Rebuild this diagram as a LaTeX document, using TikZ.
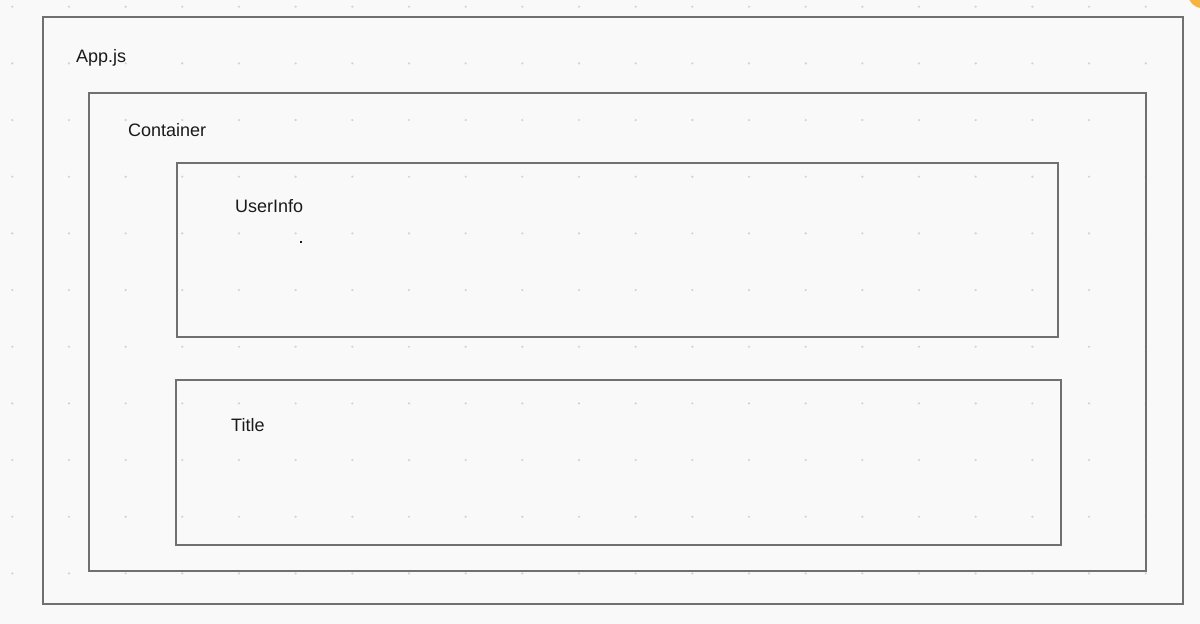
\documentclass[tikz,border=0pt]{standalone}
\usepackage{fontspec}
\setmainfont{Liberation Sans}
\definecolor{bg}{HTML}{F9F9F9}
\definecolor{gridc}{HTML}{D2D2D2}
\definecolor{boxc}{HTML}{707070}
\definecolor{txtc}{HTML}{1A1A1A}
\definecolor{orng}{HTML}{F5B440}
\begin{document}
\begin{tikzpicture}[x=1pt,y=-1pt,
  box/.style={draw=boxc, line width=2pt, rectangle, anchor=north west, outer sep=0pt, inner sep=0pt},
  lbl/.style={anchor=base west, inner sep=0pt, text=txtc, font=\fontsize{18}{21}\selectfont}]
\clip (0,0) rectangle (1200,624);
\useasboundingbox (0,0) rectangle (1200,624);
\fill[bg] (0,0) rectangle (1200,624);
\foreach \i in {0,...,21}{
  \foreach \j in {0,...,11}{
    \fill[gridc] ({12.3+56.67*\i},{6.7+56.67*\j}) circle (1.2);
  }
}
\fill[orng] (1202,-6) circle (14);
\node[box, minimum width=1140pt, minimum height=587pt] (app) at (42.5,16.5) {};
\node[box, minimum width=1057pt, minimum height=477.5pt] (container) at (88.5,93) {};
\node[box, minimum width=881.5pt, minimum height=174pt] (userinfo) at (176.5,162.5) {};
\node[box, minimum width=885.3pt, minimum height=165pt] (title) at (175.7,379.5) {};
\node[lbl] (applbl) at (76,62) {App.js};
\node[lbl] (containerlbl) at (128,136) {Container};
\node[lbl] (userinfolbl) at (235,212.3) {UserInfo};
\node[lbl] (titlelbl) at (231,431) {Title};
\fill[txtc] (299.5,240.5) rectangle (301.5,242.5);
\coordinate (speck) at (300.5,241.5);
\end{tikzpicture}
\end{document}
